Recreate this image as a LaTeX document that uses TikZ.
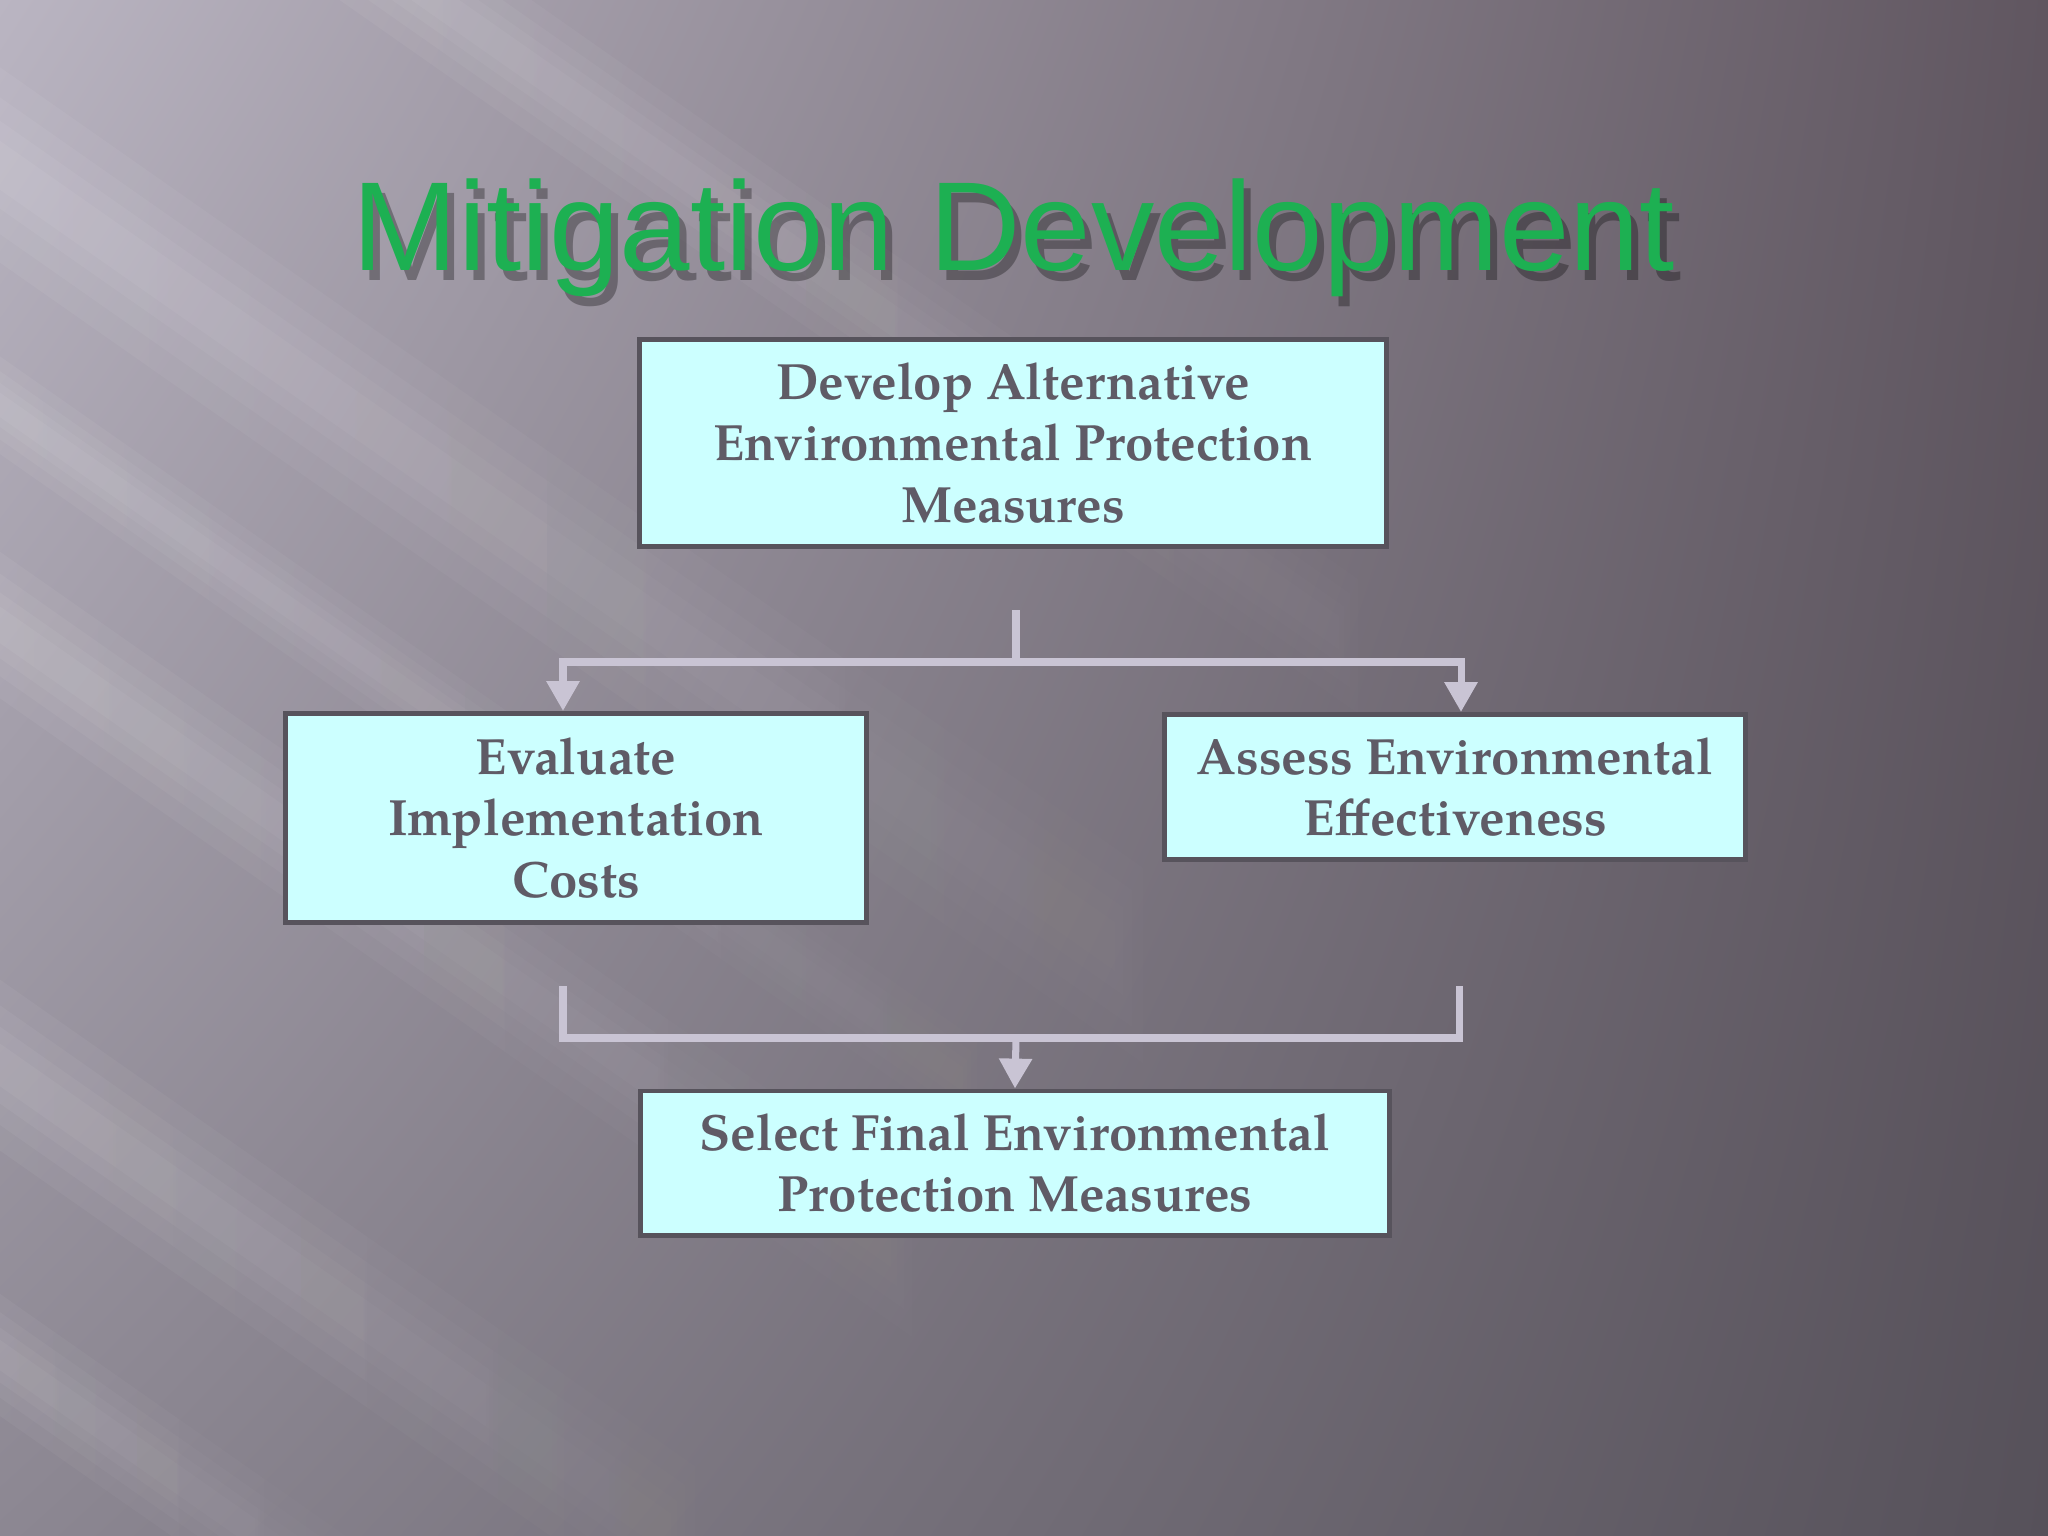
\documentclass[tikz,border=0pt]{standalone}
\usepackage{fontspec}
\newfontfamily\headfont{Liberation Sans}
\newfontfamily\boxfont{TeX Gyre Pagella}
\usetikzlibrary{arrows.meta,shadings,fadings}
\definecolor{boxfill}{HTML}{CCFFFF}
\definecolor{boxline}{HTML}{57535C}
\definecolor{boxtext}{HTML}{5F5B66}
\definecolor{pipe}{HTML}{C9C4D4}
\definecolor{leaf}{HTML}{1DB052}
\definecolor{bgul}{RGB}{186,181,194}
\definecolor{bgur}{RGB}{96,86,96}
\definecolor{bgll}{RGB}{140,135,146}
\definecolor{bglr}{RGB}{86,81,90}
\tikzset{
  stepbox/.style={draw=boxline, line width=1.4pt, fill=boxfill, text=boxtext,
    font=\boxfont\bfseries\fontsize{14.5}{17.4}\selectfont, align=center, inner sep=0pt},
  link/.style={draw=pipe, line width=2pt, line join=miter},
  tip/.style={-{Triangle[width=9pt,length=8.5pt]}},
  ray/.style={white, fill opacity=.06, path fading=east}
}
% one light streak: start x, start y, length, half width
\newcommand\streak[4]{%
  \foreach \k in {1,.7,.45,.25} {
    \begin{scope}[shift={(#1,#2)}, rotate=-35]
      \fill[ray] (0,-#4*\k) rectangle (#3,#4*\k);
    \end{scope}
  }}
\begin{document}
\begin{tikzpicture}[x=0.01cm,y=-0.01cm]
\useasboundingbox (0,0) rectangle (2048,1536);
% background
\shade[upper left=bgul, upper right=bgur, lower left=bgll, lower right=bglr]
  (0,0) rectangle (2048,1536);
\begin{scope}
\clip (0,0) rectangle (2048,1536);
\streak{-150}{60}{1700}{80}
\streak{-150}{520}{1400}{60}
\streak{-150}{960}{1100}{70}
\streak{150}{-200}{1600}{55}
\streak{-150}{300}{1500}{40}
\streak{-150}{1250}{700}{50}
\end{scope}
% title
\node[anchor=base, text=black, opacity=.3, font=\headfont\fontsize{36}{40}\selectfont] at (1021,280) {Mitigation Development};
\node[anchor=base, text=leaf, font=\headfont\fontsize{36}{40}\selectfont] (title) at (1014,270) {Mitigation Development};
% boxes
\node[stepbox, minimum width=7.47cm, minimum height=2.06cm] (develop) at (1013,443) {Develop Alternative\\Environmental Protection\\Measures};
\node[stepbox, minimum width=5.8cm, minimum height=2.09cm] (costs) at (576,818) {Evaluate\\Implementation\\Costs};
\node[stepbox, minimum width=5.8cm, minimum height=1.45cm] (assess) at (1455,787) {Assess Environmental\\Effectiveness};
\node[stepbox, minimum width=7.49cm, minimum height=1.44cm] (final) at (1015,1163) {Select Final Environmental\\Protection Measures};
% connectors
\coordinate (split) at (1016,610);
\coordinate (hub) at (1016,662);
\coordinate (lpost) at (563,662);
\coordinate (rpost) at (1461,662);
\draw[link] (split) -- (hub);
\draw[link, tip] (hub) -- (lpost) -- (lpost |- costs.north);
\draw[link, tip] (hub) -- (rpost) -- (rpost |- assess.north);
\coordinate (lfoot) at (563,986);
\coordinate (rfoot) at (1459,986);
\coordinate (join) at (1016,1038);
\draw[link] (lfoot) -- (lfoot |- join) -- (rfoot |- join) -- (rfoot);
\draw[link, tip] (join) -- (final.north);
\end{tikzpicture}
\end{document}
